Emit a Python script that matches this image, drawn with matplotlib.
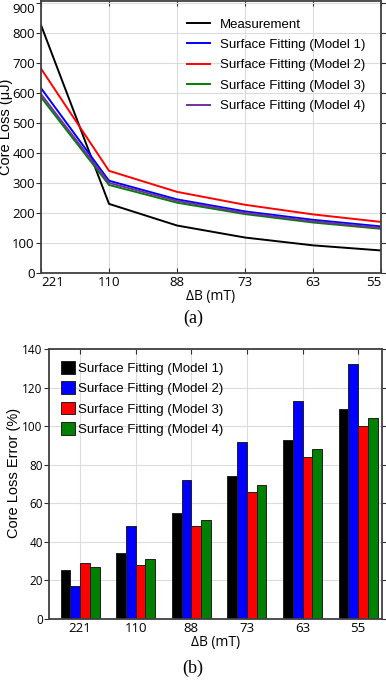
import matplotlib
matplotlib.use("Agg")
from matplotlib import pyplot as plt
import numpy as np

deltaB = ["221", "110", "88", "73", "63", "55"]

# top chart: core loss (uJ)
measurement = [825, 230, 158, 118, 92, 75]
lossModel1 = [615, 307, 245, 205, 177, 155]
lossModel2 = [680, 340, 270, 227, 195, 170]
lossModel3 = [585, 293, 234, 196, 168, 147]
lossModel4 = [595, 300, 240, 200, 172, 150]

# bottom chart: core loss error (%)
errModel1 = [25.5, 34, 55, 74, 93, 109]
errModel2 = [17, 48, 72, 92, 113, 132]
errModel3 = [29, 28, 48, 66, 84, 100]
errModel4 = [27, 31, 51.5, 69.5, 88, 104]

plt.rcParams['font.family'] = ['Liberation Sans', 'DejaVu Sans']
tickFont = 'Open Sans'
gridColor = '#dcdcdc'
spineColor = '#404040'

fig = plt.figure(figsize=(3.86, 6.88), dpi=100)

def styleAxes(ax):
    ax.grid(True, color=gridColor, linewidth=0.8)
    ax.set_axisbelow(True)
    ax.tick_params(direction='in', top=True, right=True, length=3.5, width=0.8,
                   colors='#303030', labelcolor='black', labelsize=9.5)
    ax.yaxis.set_tick_params(direction='out', which='major')
    for s in ax.spines.values():
        s.set_color(spineColor)
        s.set_linewidth(1.3)
    for lab in ax.get_xticklabels() + ax.get_yticklabels():
        lab.set_family(tickFont)

# (a) line chart
ax1 = fig.add_axes([41/386, 1 - 273/688, 340/386, 272/688])
x = np.arange(len(deltaB))
ax1.plot(x, measurement, color='black', lw=1.4, label='Measurement')
ax1.plot(x, lossModel1, color='#0000ff', lw=1.4, label='Surface Fitting (Model 1)')
ax1.plot(x, lossModel2, color='#ff0000', lw=1.4, label='Surface Fitting (Model 2)')
ax1.plot(x, lossModel3, color='#008000', lw=1.4, label='Surface Fitting (Model 3)')
ax1.plot(x, lossModel4, color='#7030a0', lw=1.4, label='Surface Fitting (Model 4)')
ax1.set_xlim(0, 5)
ax1.set_ylim(0, 905)
ax1.set_yticks(range(0, 901, 100))
ax1.set_xticks(x)
ax1.set_xticklabels(deltaB)
styleAxes(ax1)
ax1.tick_params(axis='x', pad=2)
ax1.tick_params(axis='y', pad=1)
xl = ax1.get_xticklabels()
xl[0].set_horizontalalignment('left')
xl[-1].set_horizontalalignment('right')
ax1.get_yticklabels()[-1].set_verticalalignment('top')
ax1.set_ylabel('Core Loss (μJ)', fontsize=10.5)
ax1.yaxis.set_label_coords(-0.083, 0.537)
ax1.set_xlabel('ΔB (mT)', fontsize=10, family=tickFont, labelpad=0)
ax1.legend(loc='upper right', bbox_to_anchor=(0.99, 0.98), frameon=False,
           fontsize=9.5, handlelength=1.7, labelspacing=0.62, handletextpad=0.8)

fig.text(0.5, 1 - 318/688, '(a)', ha='center', va='center',
         family='Liberation Serif', fontsize=13)

# (b) bar chart
ax2 = fig.add_axes([49/386, 1 - 619/688, 333/386, 270/688])
w = 0.175
barColors = ['black', '#0000ff', '#ff0000', '#008000']
series = [errModel1, errModel2, errModel3, errModel4]
for i, (vals, c) in enumerate(zip(series, barColors)):
    ax2.bar(x + (i - 1.5) * w, vals, width=w, color=c, edgecolor='#202020',
            linewidth=0.7, label='Surface Fitting (Model %d)' % (i + 1))
ax2.set_xlim(-0.56, 5.43)
ax2.set_ylim(0, 140)
ax2.set_yticks(range(0, 141, 20))
ax2.set_xticks(x)
ax2.set_xticklabels(deltaB)
styleAxes(ax2)
ax2.tick_params(axis='x', pad=2)
ax2.tick_params(axis='y', pad=1, labelsize=8.5)
ax2.set_ylabel('Core Loss Error (%)', fontsize=10.5)
ax2.yaxis.set_label_coords(-0.085, 0.541)
ax2.set_xlabel('ΔB (mT)', fontsize=10, family=tickFont, labelpad=0)
ax2.legend(loc='upper left', bbox_to_anchor=(0.0, 1.0), frameon=False,
           fontsize=9.5, handlelength=1.1, handleheight=1.1, labelspacing=0.5,
           handletextpad=0.2)

fig.text(0.5, 1 - 668/688, '(b)', ha='center', va='center',
         family='Liberation Serif', fontsize=13)

fig.savefig('out.png', dpi=100)
